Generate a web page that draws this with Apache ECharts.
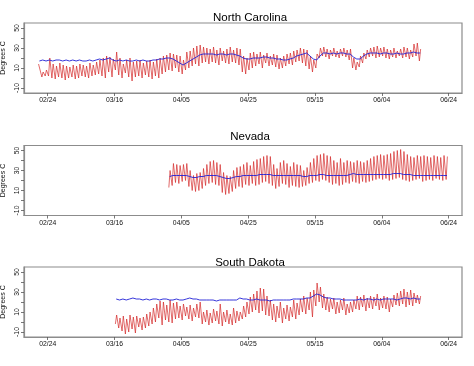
<!DOCTYPE html>
<html>
<head>
<meta charset="utf-8">
<script src="https://cdn.jsdelivr.net/npm/echarts@6/dist/echarts.min.js"></script>
<style>
html,body{margin:0;padding:0;background:#fff;}
#chart{width:474px;height:366px;}
</style>
</head>
<body>
<div id="chart"></div>
<script>
const YEAR = 2019;
const xTickLabels = ['02/24','03/16','04/05','04/25','05/15','06/04','06/24'];
const yTickLabels = [-10, 10, 30, 50];
const yTickMarks = [-10, 0, 10, 20, 30, 40, 50];
const panelTitles = ['North Carolina', 'Nevada', 'South Dakota'];

// North Carolina, daily from 02/21
const ncStart = '02/21';
const ncMax = [15,6,8,
  20,14,12,15,13,12,11,13,12,14,13,12,15,13,16,
  18,20,22,21,19,26,20,14,18,20,
  16,17,18,15,17,18,16,19,20,22,23,
  25,24,23,22,18,
  26,27,30,32,33,31,30,
  29,31,28,30,27,29,31,28,30,29,
  22,20,25,26,
  24,26,23,25,22,24,23,20,22,
  24,25,27,28,30,29,28,
  22,18,24,
  30,31,29,28,30,27,29,30,28,29,
  20,16,22,25,
  28,30,31,32,30,31,29,28,30,27,29,31,30,28,34,35,29];
const ncMin = [14,1,2,
  2,0,-1,1,0,-2,0,1,-1,0,2,1,0,2,3,
  4,2,0,6,1,8,3,0,5,1,
  -3,1,2,0,3,1,-1,2,0,4,6,
  8,7,10,6,4,
  8,10,12,14,12,15,16,
  14,16,15,13,17,15,14,16,15,13,
  6,4,8,10,
  12,14,10,15,12,13,11,9,10,
  12,14,13,16,17,15,12,
  9,6,10,
  20,22,21,19,22,21,20,22,21,18,
  10,8,11,15,
  19,21,22,20,21,22,20,19,21,20,22,20,21,19,21,22,17];
const ncBlue = [17,18,17,18,17,18,18,17,18,17,18,17,18,17,17,18,17,18,19,18,19,20,18,17,18,17,18,17,17,18,17,18,17,17,18,18,19,19,20,
  20,19,17,15,13,
  15,17,19,21,23,24,24,
  24,24,23,24,24,23,24,24,23,22,
  20,19,19,20,
  20,20,21,21,20,20,19,19,18,
  18,19,20,22,23,24,25,
  22,19,18,
  22,25,25,24,25,24,25,25,24,24,
  21,19,19,22,
  24,25,25,25,24,25,25,24,24,25,24,24,25,25,26,25,25];

// Nevada, daily from 04/01
const nvStart = '04/01';
const nvMax = [30,37,36,35,36,37,30,
  25,27,28,32,
  36,39,40,38,36,
  28,25,24,30,33,
  34,36,38,35,39,41,42,44,45,44,
  36,32,38,40,37,34,38,36,35,
  30,33,38,
  42,45,46,47,45,44,40,38,42,
  38,40,39,38,40,39,38,40,
  42,44,45,46,45,46,47,49,50,51,49,46,44,
  43,45,44,45,44,43,45,44,43,45,44];
const nvMin = [13,15,18,17,19,20,14,
  10,9,10,12,
  15,17,18,16,15,
  8,6,7,9,12,
  14,13,16,15,17,15,16,18,19,17,
  15,12,14,17,16,13,15,14,13,
  14,15,17,
  18,20,19,21,20,18,16,17,15,
  16,18,17,19,18,17,19,18,
  19,20,21,22,21,22,20,21,22,23,21,20,19,
  20,21,22,19,20,21,20,22,21,20,21];
const nvBlue = [24,25,25,25,25,25,24,
  23,23,24,24,
  25,25,25,25,24,
  23,22,22,23,24,
  24,25,25,25,25,25,26,26,26,26,
  25,25,25,25,25,25,25,25,25,
  24,24,25,
  25,25,26,26,25,25,25,25,25,
  25,25,26,27,26,26,26,26,
  26,26,26,26,26,26,26,27,27,27,26,26,26,
  25,25,25,25,25,25,25,25,25,25,25];

// South Dakota, daily from 03/16
const sdStart = '03/16';
const sdMax = [7,4,6,3,7,5,6,4,5,8,10,
  14,18,21,20,17,22,19,20,
  16,18,15,17,14,18,20,
  10,12,9,13,11,18,10,12,8,14,11,10,
  16,20,25,28,31,34,33,26,22,
  18,16,20,14,17,15,22,19,23,
  26,24,30,32,39,35,28,
  25,23,24,20,22,24,18,20,
  22,26,25,27,24,26,25,28,24,26,25,23,27,29,31,33,30,32,29,27,26];
const sdMin = [-2,-6,-9,-12,-10,-7,-11,-5,-8,-6,-4,
  -2,0,4,-3,2,0,-1,3,
  4,2,6,3,1,5,4,
  -2,0,-3,-1,1,-2,-4,0,-2,-3,-1,1,
  3,5,8,10,12,9,11,7,6,
  2,0,4,-1,3,1,5,3,7,
  10,8,12,5,16,20,14,
  12,10,13,8,9,12,7,9,
  10,13,12,15,11,14,13,16,12,14,13,10,15,17,16,18,15,17,16,19,18];
const sdBlue = [23,22,23,22,23,24,23,23,22,23,22,
  23,23,22,23,23,22,22,23,
  22,22,23,24,23,23,22,
  22,22,22,22,21,22,22,22,22,22,22,24,
  23,23,22,22,23,22,22,22,21,
  22,22,22,22,22,22,23,23,23,
  23,24,24,26,28,27,25,
  24,24,23,23,23,22,22,22,
  22,22,23,22,23,23,22,23,22,23,23,23,23,22,23,24,24,23,24,23,23];

function dayOf(mmdd) {
  const [m, d] = mmdd.split('/').map(Number);
  return (Date.UTC(YEAR, m - 1, d) - Date.UTC(YEAR, 1, 24)) / 86400000;
}
function redSeries(start, mins, maxs) {
  const s = dayOf(start), out = [];
  for (let i = 0; i < mins.length; i++) {
    out.push([s + i + 0.25, mins[i]]);
    out.push([s + i + 0.625, maxs[i]]);
  }
  return out;
}
function blueSeries(start, vals) {
  const s = dayOf(start);
  return vals.map((v, i) => [s + i + 0.5, v]);
}

const panels = [
  {red: redSeries(ncStart, ncMin, ncMax), blue: blueSeries(ncStart, ncBlue)},
  {red: redSeries(nvStart, nvMin, nvMax), blue: blueSeries(nvStart, nvBlue)},
  {red: redSeries(sdStart, sdMin, sdMax), blue: blueSeries(sdStart, sdBlue)}
];

const xTickPos = xTickLabels.map(dayOf);
const FONT = 'Liberation Sans, Arial, Helvetica, sans-serif';
const tops = [23, 145.5, 267];
const titleTops = [10, 129, 255];
const frame = '#8c8c8c';

const option = {
  animation: false,
  backgroundColor: '#fff',
  title: panelTitles.map((t, i) => ({
    text: t, left: 245, top: titleTops[i] - 3, textAlign: 'center',
    textStyle: {fontFamily: FONT, fontSize: 11.5, fontWeight: 'normal', color: '#000'}
  })),
  grid: tops.map(t => ({left: 24, top: t, width: 438, height: 70, show: true,
    containLabel: false, outerBoundsMode: 'none',
    borderColor: frame, borderWidth: 1.2, backgroundColor: 'transparent'})),
  xAxis: tops.map((t, i) => ({
    type: 'value', gridIndex: i, min: -7.1, max: 124,
    splitLine: {show: false},
    axisLine: {show: true, onZero: false, lineStyle: {color: frame, width: 1.2}},
    axisTick: {show: true, length: 3, lineStyle: {color: '#555', width: 0.8}, customValues: xTickPos},
    axisLabel: {show: true, fontFamily: FONT, fontSize: 6.8, color: '#111', margin: 4,
      customValues: xTickPos,
      formatter: v => { const k = xTickPos.findIndex(p => Math.abs(p - v) < 0.01); return k >= 0 ? xTickLabels[k] : ''; }}
  })),
  yAxis: tops.map((t, i) => ({
    type: 'value', gridIndex: i, min: -15, max: 55,
    name: 'Degrees C', nameLocation: 'middle', nameGap: 15, nameRotate: 90,
    nameTextStyle: {fontFamily: FONT, fontSize: 7, color: '#111'},
    splitLine: {show: false},
    axisLine: {show: true, onZero: false, lineStyle: {color: frame, width: 1.2}},
    axisTick: {show: true, length: 3, lineStyle: {color: '#555', width: 0.8}, customValues: yTickMarks},
    axisLabel: {show: true, rotate: 90, fontFamily: FONT, fontSize: 6.8, color: '#111', margin: 3,
      customValues: yTickLabels}
  })),
  series: panels.flatMap((p, i) => ([
    {type: 'line', xAxisIndex: i, yAxisIndex: i, data: p.red, showSymbol: false,
      lineStyle: {color: '#d42a2a', width: 0.7}, silent: true},
    {type: 'line', xAxisIndex: i, yAxisIndex: i, data: p.blue, showSymbol: false,
      lineStyle: {color: '#1f1fd6', width: 0.9}, silent: true}
  ]))
};

const chart = echarts.init(document.getElementById('chart'), null, {renderer: 'canvas'});
chart.setOption(option);
</script>
</body>
</html>
